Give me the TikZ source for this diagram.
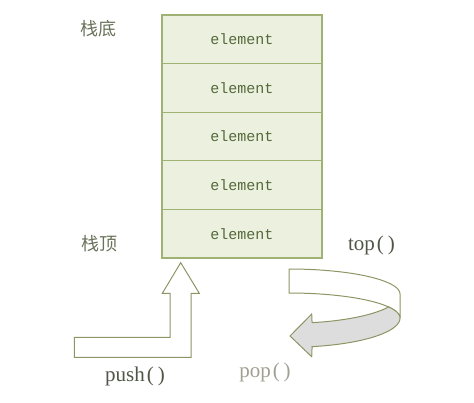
\documentclass[tikz,border=0pt]{standalone}
\usepackage{fontspec}
\newfontfamily\cjk{Noto Sans CJK SC}
\newfontfamily\monof{Liberation Mono}
\newfontfamily\serf{Liberation Serif}
\definecolor{cellfill}{RGB}{235,241,222}
\definecolor{celldraw}{RGB}{160,178,115}
\definecolor{celltext}{RGB}{85,105,60}
\definecolor{labeltext}{RGB}{105,115,90}
\definecolor{arrowline}{RGB}{140,150,100}
\definecolor{opdark}{RGB}{80,85,70}
\definecolor{oplight}{RGB}{160,160,145}
\definecolor{frontgray}{RGB}{221,221,221}
\tikzset{
  cell/.style={draw=celldraw, line width=1.1pt, fill=cellfill, minimum width=160pt, minimum height=48.6pt, inner sep=0pt, text=celltext, font=\monof\fontsize{15}{17}\selectfont},
  sidelabel/.style={text=labeltext, font=\cjk\fontsize{18}{20}\selectfont, inner sep=0pt},
  oplabel/.style={font=\serf\fontsize{21}{23}\selectfont, inner sep=0pt},
  blockarrow/.style={draw=arrowline, line width=1pt, line join=miter}
}
\begin{document}
\begin{tikzpicture}[x=1pt, y=-1pt]
\useasboundingbox (0,0) rectangle (474,402);
% stack
\node[cell] (e1) at (242,39.3) {element};
\node[cell] (e2) at (242,87.9) {element};
\node[cell] (e3) at (242,136.5) {element};
\node[cell] (e4) at (242,185.1) {element};
\node[cell] (e5) at (242,233.7) {element};
% side labels
\node[sidelabel] (bottomlbl) at (98,29) {栈底};
\node[sidelabel] (toplbl) at (99,244) {栈顶};
% push arrow
\draw[blockarrow, fill=white] (180.7,262.7) -- (199.3,293.3) -- (191,293.3) -- (191,357.3)
  -- (74.3,357.3) -- (74.3,337.3) -- (170,337.3) -- (170,293.3) -- (162.3,293.3) -- cycle;
% curved arrow: back band
\draw[blockarrow, fill=white]
  plot[domain=90:0, samples=40] ({289+111*cos(\x)},{294-25*sin(\x)})
  -- (400,318)
  -- plot[domain=0:90, samples=40] ({289+111*cos(\x)},{318-25*sin(\x)})
  -- cycle;
% curved arrow: front part
\draw[blockarrow, fill=frontgray]
  plot[domain=-26.2:-78, samples=30] ({289+111*cos(\x)},{294-29.3*sin(\x)})
  -- (311.7,314) -- (290,336) -- (311.7,356.7) -- (312.1,346.7)
  -- plot[domain=-78:0, samples=40] ({289+111*cos(\x)},{318-29.3*sin(\x)})
  -- plot[domain=0:26.2, samples=15] ({289+111*cos(\x)},{318-25*sin(\x)})
  -- cycle;
% operation labels
\node[oplabel, text=opdark] (push) at (135,376) {push\kern2pt(\kern4pt)};
\node[oplabel, text=opdark] (top) at (371.5,245) {top\kern2pt(\kern4pt)};
\node[oplabel, text=oplight] (pop) at (265,372) {pop\kern2pt(\kern4pt)};
\end{tikzpicture}
\end{document}
